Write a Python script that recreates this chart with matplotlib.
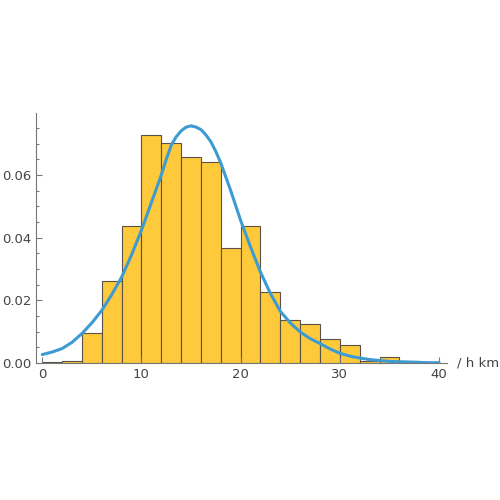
import matplotlib.pyplot as plt
from matplotlib.ticker import MultipleLocator

# histogram bins (width 2) and density heights
bin_edges = list(range(0, 42, 2))
bar_heights = [0.0002, 0.0005, 0.0096, 0.0261, 0.0436, 0.0728, 0.0702,
               0.0658, 0.0642, 0.0367, 0.0436, 0.0227, 0.0137, 0.0124,
               0.0076, 0.0056, 0.0005, 0.0018, 0.0006, 0.0]

# fitted density curve
curve_x = [0, 1, 2, 3, 4, 5, 6, 7, 8, 9, 10, 11, 12, 12.5, 13, 13.5, 14,
           14.5, 15, 15.5, 16, 16.5, 17, 17.5, 18, 19, 20, 21, 22, 23, 24,
           25, 26, 27, 28, 29, 30, 31, 32, 33, 34, 35, 36, 37, 38, 39, 40]
curve_y = [0.0027, 0.0035, 0.0046, 0.0066, 0.0094, 0.0128, 0.0168, 0.0218,
           0.0274, 0.0345, 0.0424, 0.0512, 0.0600, 0.0650, 0.0695, 0.0722,
           0.0741, 0.0753, 0.0757, 0.0753, 0.0745, 0.0728, 0.0706, 0.0675,
           0.0638, 0.0550, 0.0455, 0.0370, 0.0290, 0.0222, 0.0165, 0.0128,
           0.0099, 0.0078, 0.0062, 0.0045, 0.0031, 0.0022, 0.0016, 0.0011,
           0.0008, 0.0005, 0.0004, 0.0003, 0.0002, 0.0001, 0.0001]

fig = plt.figure(figsize=(5, 5), dpi=100)
ax = fig.add_axes([0.072, 0.274, 0.822, 0.5])

ax.bar(bin_edges[:-1], bar_heights, width=2, align='edge',
       color='#FFC93C', edgecolor='#5a5248', linewidth=0.8)
ax.plot(curve_x, curve_y, color='#3C9BD2', linewidth=2.2,
        solid_joinstyle='round', solid_capstyle='round')

ax.set_xlim(-0.63, 40.8)
ax.set_ylim(0, 0.0798)

for s in ['top', 'right']:
    ax.spines[s].set_visible(False)
for s in ['left', 'bottom']:
    ax.spines[s].set_color('#777777')
    ax.spines[s].set_linewidth(0.8)

ax.xaxis.set_major_locator(MultipleLocator(10))
ax.yaxis.set_major_locator(MultipleLocator(0.02))
ax.yaxis.set_minor_locator(MultipleLocator(0.005))
ax.yaxis.set_major_formatter(plt.FuncFormatter(lambda v, p: f"{v:.2f}"))
ax.tick_params(direction='in', colors='#777777', labelcolor='#444444',
               labelsize=9.5, length=4, width=0.8)
ax.tick_params(which='minor', direction='in', colors='#777777', length=2.5,
               width=0.8)

ax.annotate('/ h km', xy=(1.025, 0), xycoords='axes fraction',
            va='center', ha='left', fontsize=9.5, color='#444444')

fig.savefig('out.png')
